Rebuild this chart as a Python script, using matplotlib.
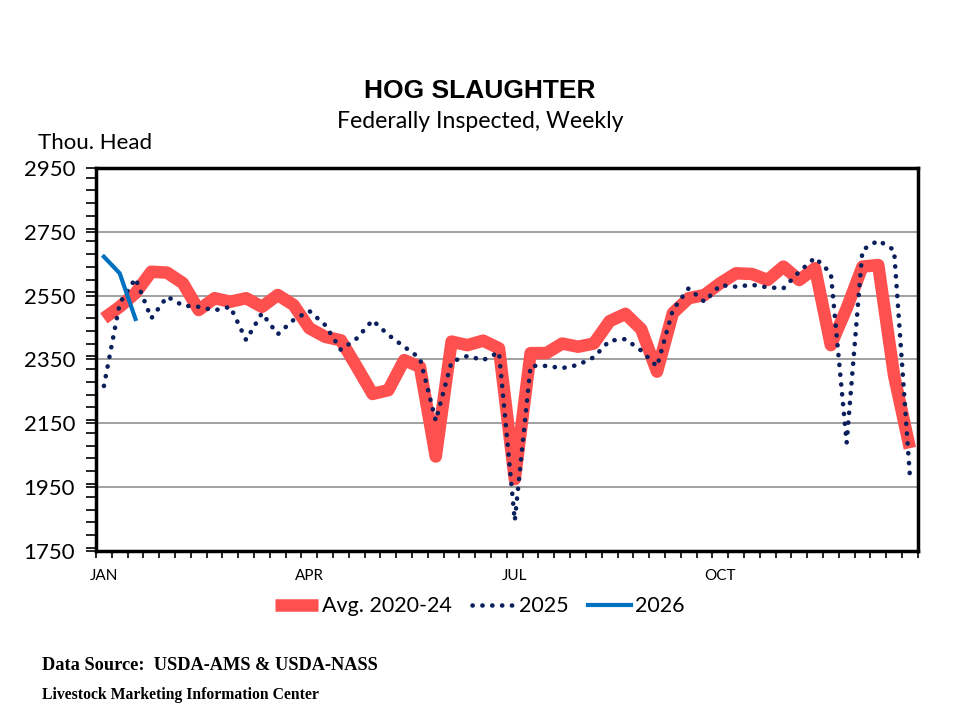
import matplotlib
matplotlib.use("Agg")
import numpy as np
import matplotlib.pyplot as plt
from matplotlib.ticker import MultipleLocator, FixedLocator

plt.rcParams['font.family'] = ['Lato', 'DejaVu Sans']

# weekly slaughter, thousand head (52 weeks)
avg_2020_24 = [2479, 2515, 2558, 2625, 2622, 2589, 2505, 2542, 2531, 2542,
               2515, 2552, 2521, 2448, 2421, 2410, 2327, 2242, 2254, 2348,
               2327, 2046, 2406, 2395, 2409, 2385, 1975, 2370, 2370, 2400,
               2390, 2400, 2470, 2493, 2445, 2312, 2495, 2542, 2552, 2589,
               2620, 2618, 2599, 2641, 2599, 2636, 2395, 2510, 2641, 2646,
               2300, 2072]
y2025 = [2267, 2526, 2604, 2479, 2547, 2519, 2515, 2504, 2515, 2411,
         2495, 2429, 2474, 2502, 2458, 2380, 2416, 2473, 2427, 2390,
         2354, 2158, 2343, 2361, 2348, 2373, 1845, 2330, 2330, 2323,
         2333, 2357, 2409, 2414, 2378, 2328, 2505, 2573, 2531, 2583,
         2578, 2584, 2576, 2573, 2625, 2669, 2620, 2089, 2693, 2723,
         2693, 1987]
y2026 = [2672, 2620, 2477]

month_labels = ['JAN', 'APR', 'JUL', 'OCT']
month_weeks = [0, 13, 26, 39]

weeks = np.arange(len(avg_2020_24))

fig = plt.figure(figsize=(9.6, 7.2), dpi=100)
ax = fig.add_axes([0.1, 0.2347, 0.856, 0.532])

ax.plot(weeks, avg_2020_24, color='#FF5050', lw=9, solid_joinstyle='round',
        solid_capstyle='butt', label='Avg. 2020-24', zorder=3)
ax.plot(weeks, y2025, color='#0A1F5C', lw=3.3, linestyle=(0, (0.05, 2.1)),
        dash_capstyle='round', label='2025', zorder=4)
ax.plot(np.arange(len(y2026)), y2026, color='#0070C0', lw=3,
        label='2026', zorder=5)

ax.set_xlim(-0.5, len(weeks) - 0.5)
ax.set_ylim(1750, 2950)

# y axis
ax.yaxis.set_minor_locator(MultipleLocator(40))
ax.set_yticks(np.arange(1750, 2951, 200))
ax.tick_params(axis='y', which='both', direction='out', length=7, width=1.2,
               labelsize=16, pad=8)
ax.grid(axis='y', which='major', color='#999999', lw=1.3)

# x axis: ticks between weeks, labels on month weeks
ax.xaxis.set_major_locator(FixedLocator(month_weeks))
ax.set_xticklabels(month_labels)
ax.xaxis.set_minor_locator(FixedLocator(np.arange(-0.5, len(weeks), 1)))
ax.tick_params(axis='x', which='major', length=0, labelsize=11, pad=13)
ax.tick_params(axis='x', which='minor', direction='out', length=5, width=1.2)

for s in ax.spines.values():
    s.set_linewidth(2.5)
    s.set_color('black')
ax.set_axisbelow(True)

fig.text(0.5, 0.873, 'HOG SLAUGHTER', ha='center', va='center',
         fontsize=19, fontweight='bold', family='Liberation Sans')
fig.text(0.5, 0.831, 'Federally Inspected, Weekly', ha='center', va='center',
         fontsize=16.6)
fig.text(0.04, 0.802, 'Thou. Head', ha='left', va='center', fontsize=16)

leg = fig.legend(loc='center', bbox_to_anchor=(0.5, 0.158), ncol=3,
                 frameon=False, fontsize=15.5, handlelength=2.0,
                 columnspacing=0.9, handletextpad=0.2)

fig.text(0.044, 0.076, 'Data Source:  USDA-AMS & USDA-NASS', ha='left',
         va='center', fontsize=13.2, fontweight='bold', family='Liberation Serif')
fig.text(0.044, 0.035, 'Livestock Marketing Information Center', ha='left',
         va='center', fontsize=11.3, fontweight='bold', family='Liberation Serif')

fig.savefig('out.png', dpi=100)
